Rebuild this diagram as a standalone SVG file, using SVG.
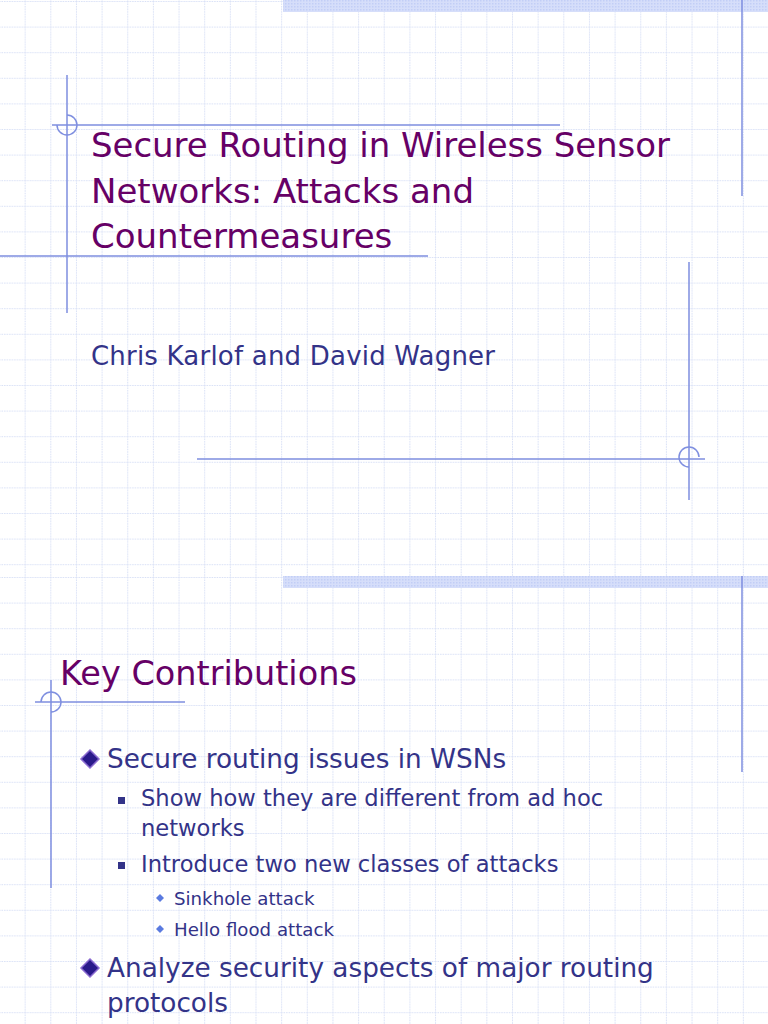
<svg xmlns="http://www.w3.org/2000/svg" width="768" height="1024" viewBox="0 0 768 1024">
<defs>
<pattern id="grid" x="-1" y="1" width="25.65" height="25.6" patternUnits="userSpaceOnUse">
<path d="M0.5 0V25.6M0 0.5H25.65" stroke="#d8e0f6" stroke-width="1" stroke-dasharray="1.5 1" fill="none"/>
</pattern>
<pattern id="hatch" width="3" height="3" patternUnits="userSpaceOnUse">
<rect width="3" height="3" fill="#d6defa"/>
<rect width="1.5" height="1.5" fill="#c2cef6"/>
</pattern>
</defs>
<style>
.ln{stroke:#7f8fe0;stroke-width:1.5;fill:none}
.t{font-family:"DejaVu Sans",Verdana,sans-serif;fill:#660066}
.b{font-family:"DejaVu Sans",Verdana,sans-serif;fill:#333388}
</style>
<rect width="768" height="1024" fill="#fff"/>
<rect width="768" height="576" fill="url(#grid)"/>
<g transform="translate(0,576)"><rect width="768" height="448" fill="url(#grid)"/></g>
<g id="slide1">
<rect x="283" y="0" width="485" height="12" fill="url(#hatch)"/>
<path class="ln" d="M742 0V196M67 75V313M52 125H560M0 256H428M689 262V500M197 459H705"/>
<path class="ln" d="M57 125A10 10 0 1 0 67 115" stroke-width="1.2"/>
<path class="ln" d="M699 457A10 10 0 1 0 689 467" stroke-width="1.2"/>
<text class="t" font-size="34" x="91" y="157" textLength="579">Secure Routing in Wireless Sensor</text>
<text class="t" font-size="34" x="91" y="203">Networks: Attacks and</text>
<text class="t" font-size="34" x="91" y="248">Countermeasures</text>
<text class="b" font-size="26" x="91" y="365" textLength="404">Chris Karlof and David Wagner</text>
</g>
<g id="slide2">
<rect x="283" y="576" width="485" height="12" fill="url(#hatch)"/>
<path class="ln" d="M742 576V772M35 702H185M51 680V888"/>
<path class="ln" d="M41 702A10 10 0 1 1 51 712" stroke-width="1.2"/>
<text class="t" font-size="33.5" x="60" y="685">Key Contributions</text>
<path d="M90 750L99 759L90 768L81 759Z" fill="#2a1a8a" stroke="#8a6ad0" stroke-width="1.5"/>
<text class="b" font-size="26.3" x="107" y="768">Secure routing issues in WSNs</text>
<rect x="118" y="797" width="7" height="7" fill="#333388"/>
<text class="b" font-size="22.6" x="141" y="806">Show how they are different from ad hoc</text>
<text class="b" font-size="22.6" x="141" y="836">networks</text>
<rect x="118" y="862" width="7" height="7" fill="#333388"/>
<text class="b" font-size="22.6" x="141" y="872">Introduce two new classes of attacks</text>
<path d="M160 894L164 898L160 902L156 898Z" fill="#5a7ae0"/>
<text class="b" font-size="18.2" x="174" y="905">Sinkhole attack</text>
<path d="M160 925L164 929L160 933L156 929Z" fill="#5a7ae0"/>
<text class="b" font-size="18.2" x="174" y="936">Hello flood attack</text>
<path d="M90 959L99 968L90 977L81 968Z" fill="#2a1a8a" stroke="#8a6ad0" stroke-width="1.5"/>
<text class="b" font-size="26.3" x="107" y="977">Analyze security aspects of major routing</text>
<text class="b" font-size="26.3" x="107" y="1012">protocols</text>
</g>
</svg>
